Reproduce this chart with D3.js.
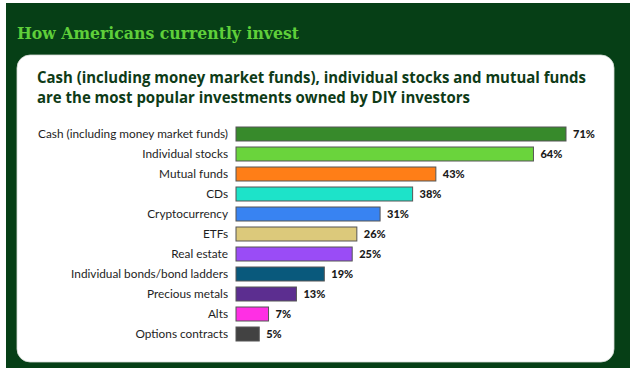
<!DOCTYPE html>
<html><head><meta charset="utf-8">
<script src="https://cdn.jsdelivr.net/npm/d3@7"></script>
<style>html,body{margin:0;padding:0;background:#fff;}svg{display:block;}</style>
</head><body>
<script>
const categories = ["Cash (including money market funds)","Individual stocks","Mutual funds","CDs","Cryptocurrency","ETFs","Real estate","Individual bonds/bond ladders","Precious metals","Alts","Options contracts"];
const values = [71,64,43,38,31,26,25,19,13,7,5];
const colors = ["#378a2b","#6ad43c","#ff7e17","#1de3c9","#3883f2","#dcc97b","#9a4cf6","#09597c","#5c2e90","#ff2fe4","#424242"];
const title = "How Americans currently invest";
const subtitleLines = ["Cash (including money market funds), individual stocks and mutual funds","are the most popular investments owned by DIY investors"];

const W=640,H=373;
const svg=d3.select("body").append("svg").attr("width",W).attr("height",H);
svg.append("rect").attr("x",6).attr("y",3).attr("width",624).attr("height",365).attr("fill","#063f16");
svg.append("rect").attr("x",17).attr("y",55).attr("width",597).attr("height",307).attr("rx",13).attr("fill","#fff").attr("stroke","#d8dcd8").attr("stroke-width",0.8);

svg.append("text").attr("x",17).attr("y",39).text(title)
  .attr("font-family","DejaVu Serif").attr("font-weight","bold").attr("font-size",16)
  .attr("fill","#5fcf3a").attr("textLength",282).attr("lengthAdjust","spacingAndGlyphs");

const subLens=[549,433];
subtitleLines.forEach((s,i)=>{
  svg.append("text").attr("x",37).attr("y",83+i*20).text(s)
    .attr("font-family","Open Sans").attr("font-weight","bold").attr("font-size",15.5)
    .attr("fill","#0e3b17").attr("textLength",subLens[i]).attr("lengthAdjust","spacingAndGlyphs");
});

const x=d3.scaleLinear().domain([0,71]).range([236,566]);
const y=d3.scaleBand().domain(categories).range([124,344]).paddingInner(0.3).paddingOuter(0.15);

const g=svg.append("g");
g.selectAll("rect.bar").data(categories).enter().append("rect").attr("class","bar")
  .attr("x",x(0)).attr("y",d=>y(d)).attr("width",(d,i)=>x(values[i])-x(0)).attr("height",y.bandwidth())
  .attr("fill",(d,i)=>colors[i]).attr("stroke","#555").attr("stroke-width",1);

g.selectAll("text.cat").data(categories).enter().append("text").attr("class","cat")
  .attr("x",228).attr("y",d=>y(d)+y.bandwidth()/2).attr("dy","0.35em").attr("text-anchor","end")
  .attr("font-family","Lato").attr("font-size",11.8).attr("fill","#1e1e1e").text(d=>d);

g.selectAll("text.val").data(categories).enter().append("text").attr("class","val")
  .attr("x",(d,i)=>x(values[i])+7).attr("y",d=>y(d)+y.bandwidth()/2).attr("dy","0.35em")
  .attr("font-family","Lato").attr("font-weight","900").attr("font-size",11).attr("fill","#1a1a1a")
  .text((d,i)=>values[i]+"%");
</script>
</body></html>
